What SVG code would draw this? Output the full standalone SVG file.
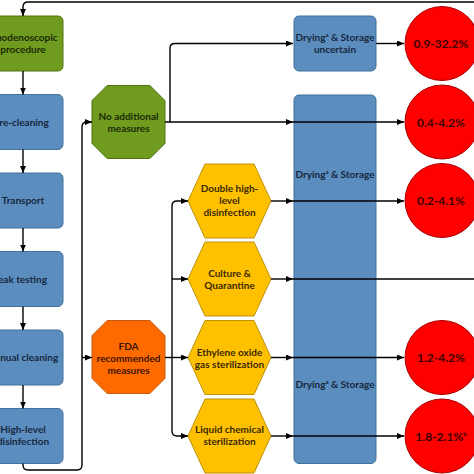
<svg xmlns="http://www.w3.org/2000/svg" width="474" height="474" viewBox="0 0 474 474">
<defs>
<marker id="arr" markerUnits="userSpaceOnUse" markerWidth="7" markerHeight="6" refX="7" refY="3" orient="auto">
<path d="M0,0 L7,3 L0,6 z" fill="#000"/>
</marker>
<style>
text{font-family:Lato,"Liberation Sans",sans-serif;font-weight:bold;font-size:10px;text-anchor:middle}
.blue{fill:#5b8dbe;stroke:#41719c;stroke-width:1}
.bt{fill:#16283f}
.green{fill:#6f9b1f;stroke:#52730f;stroke-width:1}
.gt{fill:#1b2a05}
.orange{fill:#ff6a00;stroke:#c55a11;stroke-width:1}
.ot{fill:#3b1400}
.yellow{fill:#ffc000;stroke:#bf9000;stroke-width:1}
.yt{fill:#3a2800}
.red{fill:#ff0000;stroke:#a80000;stroke-width:1}
.rt{fill:#3a0000;font-size:12px}
.sup{font-size:6px}
.c{fill:none;stroke:#000;stroke-width:1.4}
.ca{fill:none;stroke:#000;stroke-width:1.4;marker-end:url(#arr)}
</style>
</defs>
<rect width="474" height="474" fill="#fff"/>

<g id="duodenoscopic">
<rect class="green" x="-17" y="16" width="80" height="55" rx="5"/>
<text class="gt" x="23" y="41">Duodenoscopic</text>
<text class="gt" x="23" y="53">procedure</text>
</g>
<g id="precleaning">
<rect class="blue" x="-17" y="94.5" width="80" height="55" rx="5"/>
<text class="bt" x="21" y="125.5">Pre-cleaning</text>
</g>
<g id="transport">
<rect class="blue" x="-17" y="173" width="80" height="55" rx="5"/>
<text class="bt" x="23" y="204">Transport</text>
</g>
<g id="leaktesting">
<rect class="blue" x="-17" y="251.5" width="80" height="55" rx="5"/>
<text class="bt" x="20" y="282.5">Leak testing</text>
</g>
<g id="manualcleaning">
<rect class="blue" x="-17" y="330" width="80" height="55" rx="5"/>
<text class="bt" x="22" y="361">Manual cleaning</text>
</g>
<g id="highlevel">
<rect class="blue" x="-17" y="408.5" width="80" height="55" rx="5"/>
<text class="bt" x="23" y="433">High-level</text>
<text class="bt" x="23" y="445">disinfection</text>
</g>

<g id="noadditional">
<polygon class="green" points="107.1,85.5 149.9,85.5 165,100.6 165,143.4 149.9,158.5 107.1,158.5 92,143.4 92,100.6"/>
<text class="gt" x="128.5" y="119.5">No additional</text>
<text class="gt" x="128.5" y="131.5">measures</text>
</g>
<g id="fda">
<polygon class="orange" points="107.1,320.5 149.9,320.5 165,335.6 165,378.4 149.9,393.5 107.1,393.5 92,378.4 92,335.6"/>
<text class="ot" x="128.5" y="349.5">FDA</text>
<text class="ot" x="128.5" y="361.5">recommended</text>
<text class="ot" x="128.5" y="373.5">measures</text>
</g>

<g id="doublehld">
<polygon class="yellow" points="205,164 254,164 271,201 254,238 205,238 188,201"/>
<text class="yt" x="229.5" y="192">Double high-</text>
<text class="yt" x="229.5" y="204">level</text>
<text class="yt" x="229.5" y="216">disinfection</text>
</g>
<g id="culture">
<polygon class="yellow" points="205,242 254,242 271,279 254,316 205,316 188,279"/>
<text class="yt" x="229.5" y="276.5">Culture &amp;</text>
<text class="yt" x="229.5" y="288.5">Quarantine</text>
</g>
<g id="ethylene">
<polygon class="yellow" points="205,320.5 254,320.5 271,357.5 254,394.5 205,394.5 188,357.5"/>
<text class="yt" x="229.5" y="355.5">Ethylene oxide</text>
<text class="yt" x="229.5" y="367.5">gas sterilization</text>
</g>
<g id="liquid">
<polygon class="yellow" points="205,399 254,399 271,436 254,473 205,473 188,436"/>
<text class="yt" x="229.5" y="433">Liquid chemical</text>
<text class="yt" x="229.5" y="445">sterilization</text>
</g>

<g id="drying-uncertain">
<rect class="blue" x="294" y="16" width="82" height="55" rx="5"/>
<text class="bt" x="335" y="41">Drying<tspan class="sup" dy="-4">a</tspan><tspan dy="4"> &amp; Storage</tspan></text>
<text class="bt" x="335" y="53">uncertain</text>
</g>
<g id="drying-storage">
<rect class="blue" x="294" y="95" width="82" height="368.5" rx="5"/>
<text class="bt" x="335" y="177.5">Drying<tspan class="sup" dy="-4">a</tspan><tspan dy="4"> &amp; Storage</tspan></text>
<text class="bt" x="335" y="387.5">Drying<tspan class="sup" dy="-4">a</tspan><tspan dy="4"> &amp; Storage</tspan></text>
</g>

<g id="risk1">
<circle class="red" cx="442" cy="43.5" r="37"/>
<text class="rt" x="441" y="48">0.9-32.2%</text>
</g>
<g id="risk2">
<circle class="red" cx="442" cy="122" r="37"/>
<text class="rt" x="441" y="126.5">0.4-4.2%</text>
</g>
<g id="risk3">
<circle class="red" cx="442" cy="200.5" r="37"/>
<text class="rt" x="441" y="205">0.2-4.1%</text>
</g>
<g id="risk4">
<circle class="red" cx="442" cy="357.5" r="37"/>
<text class="rt" x="441" y="362">1.2-4.2%</text>
</g>
<g id="risk5">
<circle class="red" cx="442" cy="436" r="37"/>
<text class="rt" x="441" y="440.5">1.8-2.1%<tspan class="sup" dy="-5">b</tspan></text>
</g>

<g id="connectors">
<path class="ca" d="M474,2 H28 Q23,2 23,7 V16"/>
<path class="ca" d="M23,71 V94.5"/>
<path class="ca" d="M23,149.5 V173"/>
<path class="ca" d="M23,228 V251.5"/>
<path class="ca" d="M23,306.5 V330"/>
<path class="ca" d="M23,385 V408.5"/>
<path class="ca" d="M23,463.5 V465 Q23,470 28,470 H77 Q82,470 82,465 V127 Q82,122 87,122 H92"/>
<path class="ca" d="M82,357.5 H92"/>
<path class="ca" d="M165,122 H293"/>
<path class="ca" d="M293,122 H404"/>
<path class="ca" d="M170,122 V48 Q170,43.5 175,43.5 H293"/>
<path class="ca" d="M376,43.5 H404"/>
<path class="ca" d="M165,357.5 H188"/>
<path class="c" d="M172,206 V431"/>
<path class="ca" d="M172,206 Q172,201 177,201 H188"/>
<path class="ca" d="M172,279 H188"/>
<path class="ca" d="M172,431 Q172,436 177,436 H188"/>
<path class="ca" d="M271,201 H293"/>
<path class="ca" d="M293,201 H404"/>
<path class="ca" d="M271,279 H293"/>
<path class="c" d="M293,279 H474"/>
<path class="ca" d="M271,357.5 H293"/>
<path class="ca" d="M293,357.5 H404"/>
<path class="ca" d="M271,436 H293"/>
<path class="ca" d="M293,436 H404"/>
</g>
</svg>
